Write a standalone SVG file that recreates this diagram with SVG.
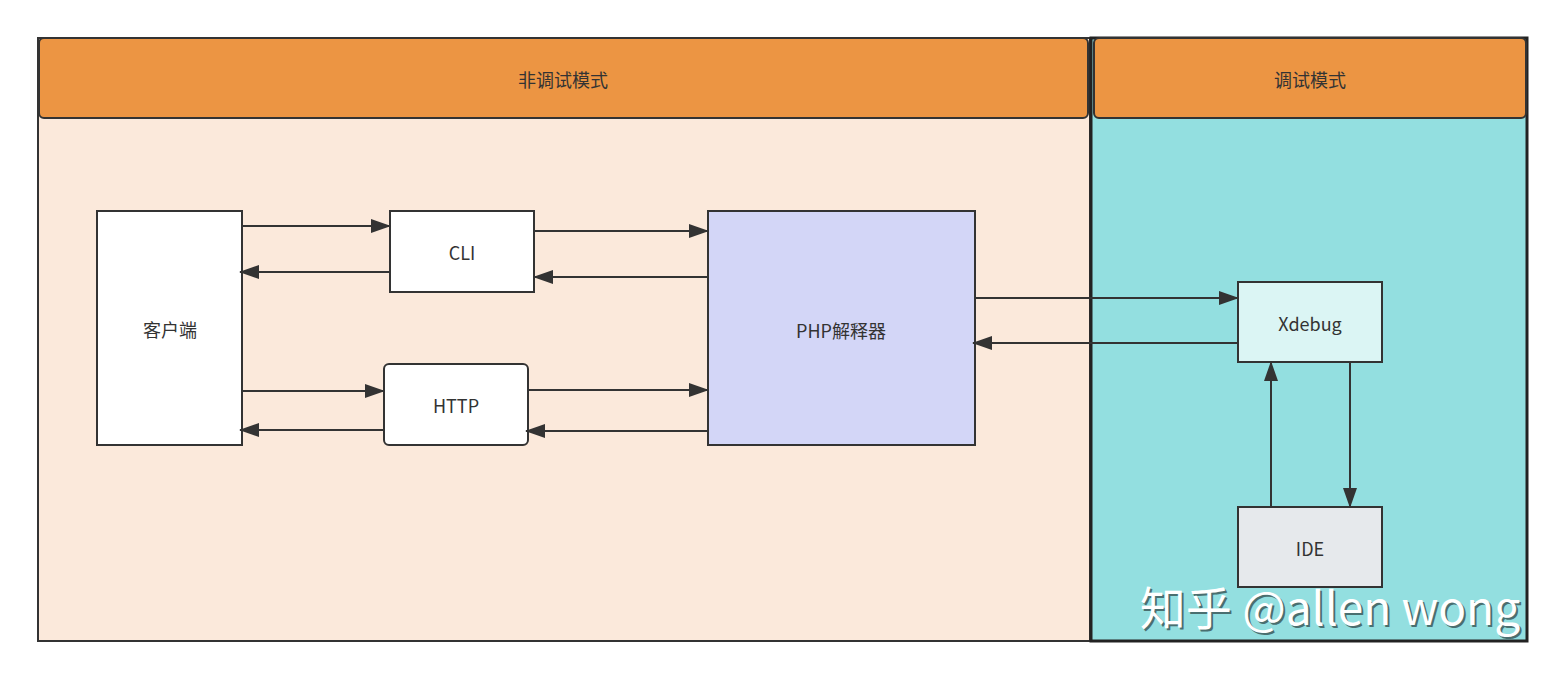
<svg xmlns="http://www.w3.org/2000/svg" width="1564" height="679" viewBox="0 0 1564 679">
<style>
text{font-family:"Noto Sans CJK SC","Noto Sans",sans-serif;font-size:18px;fill:#333;text-anchor:middle;dominant-baseline:central}
.n{stroke:#333;stroke-width:2}
.c{stroke:#333;stroke-width:2;fill:none}
.w{font-size:46px;fill:#fff}
</style>
<defs>
<marker id="b" viewBox="0 0 20 14" refX="19" refY="7" markerWidth="20" markerHeight="14" markerUnits="userSpaceOnUse" orient="auto"><path d="M0,0 L20,7 L0,14 Z" fill="#333"/></marker></defs>
<rect width="1564" height="679" fill="#fff"/>
<g id="left"><rect x="38" y="38" width="1052" height="603" fill="#fbe9db" class="n"/>
<rect x="39" y="38" width="1049" height="80" rx="5" fill="#ec9543" class="n"/><text x="563" y="79">非调试模式</text></g>
<g id="right"><rect x="1091" y="38" width="436" height="603" fill="#93dfe0" stroke="#222" stroke-width="3"/>
<rect x="1094" y="38" width="432" height="80" rx="5" fill="#ec9543" class="n"/><text x="1310" y="79">调试模式</text></g>
<g id="client"><rect x="97" y="211" width="145" height="234" fill="#fff" class="n"/><text x="170" y="329">客户端</text></g>
<g id="cli"><rect x="390" y="211" width="144" height="81" fill="#fff" class="n"/><text x="462" y="252">CLI</text></g>
<g id="http"><rect x="384" y="364" width="144" height="81" rx="5" fill="#fff" class="n"/><text x="456" y="405">HTTP</text></g>
<g id="php"><rect x="708" y="211" width="267" height="234" fill="#d3d6f7" class="n"/><text x="841" y="330">PHP解释器</text></g>
<g id="xdebug"><rect x="1238" y="282" width="144" height="80" fill="#dbf5f4" class="n"/><text x="1310" y="323">Xdebug</text></g>
<g id="ide"><rect x="1238" y="507" width="144" height="80" fill="#e6e9ec" class="n"/><text x="1310" y="548">IDE</text></g>
<g id="connectors">
<path class="c" marker-end="url(#b)" d="M242,226 H390"/>
<path class="c" marker-end="url(#b)" d="M390,272 H240"/>
<path class="c" marker-end="url(#b)" d="M534,231 H708"/>
<path class="c" marker-end="url(#b)" d="M708,277 H534"/>
<path class="c" marker-end="url(#b)" d="M242,391 H384"/>
<path class="c" marker-end="url(#b)" d="M384,430 H240"/>
<path class="c" marker-end="url(#b)" d="M528,390 H708"/>
<path class="c" marker-end="url(#b)" d="M708,431 H526"/>
<path class="c" marker-end="url(#b)" d="M975,298 H1238"/>
<path class="c" marker-end="url(#b)" d="M1238,343 H973"/>
<path class="c" marker-end="url(#b)" d="M1271,507 V362"/>
<path class="c" marker-end="url(#b)" d="M1350,362 V507"/>
</g>
<text x="1332" y="607" class="w" style="fill:#4a6f70">知乎 @allen wong</text>
<text x="1330" y="605" class="w">知乎 @allen wong</text>
</svg>
